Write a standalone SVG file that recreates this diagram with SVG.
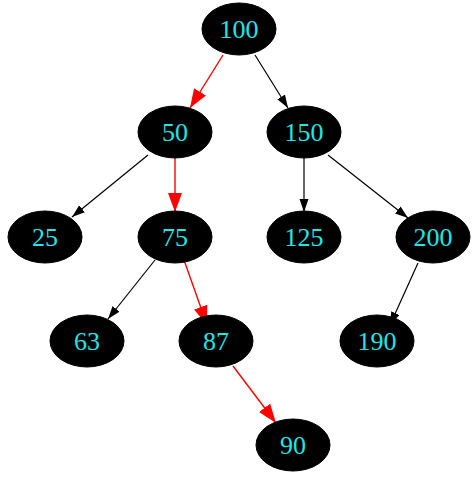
<svg xmlns="http://www.w3.org/2000/svg" width="474" height="481" viewBox="0 0 474 481">
<style>
.node ellipse{fill:#000;stroke:#000}
.node text{font-family:"Liberation Serif","Times New Roman",serif;font-size:26px;fill:#22e6e6;text-anchor:middle}
.e{fill:none;stroke:#000;stroke-width:1.2;marker-end:url(#ab)}
.r{stroke:#ff0000;stroke-width:1.4;marker-end:url(#ar)}
</style>
<defs>
<marker id="ab" markerUnits="userSpaceOnUse" markerWidth="14" markerHeight="12" refX="13" refY="4.5" orient="auto"><path d="M0,0 L13,4.5 L0,9 Z" fill="#000"/></marker>
<marker id="ar" markerUnits="userSpaceOnUse" markerWidth="20" markerHeight="16" refX="19" refY="7" orient="auto"><path d="M0,0 L19,7 L0,14 Z" fill="#ff0000"/></marker>
</defs>
<rect width="474" height="481" fill="#fff"/>
<g id="edges">
<path class="e r" d="M223,55 L190,108"/>
<path class="e" d="M255,55 L288,108"/>
<path class="e" d="M148,155 L72,217"/>
<path class="e r" d="M175,158 L175,212"/>
<path class="e" d="M304,158 L304,212"/>
<path class="e" d="M328,155 L408,218"/>
<path class="e" d="M155,260 L108,319"/>
<path class="e r" d="M184,260 L207,325"/>
<path class="e" d="M418,263 L390,325"/>
<path class="e r" d="M233,366 L276,423"/>
</g>
<g id="n100" class="node"><ellipse cx="239" cy="29" rx="37" ry="26"/><text x="239" y="38">100</text></g>
<g id="n50" class="node"><ellipse cx="175" cy="132" rx="37" ry="26"/><text x="175" y="141">50</text></g>
<g id="n150" class="node"><ellipse cx="304" cy="132" rx="37" ry="26"/><text x="304" y="141">150</text></g>
<g id="n25" class="node"><ellipse cx="45" cy="237" rx="37" ry="26"/><text x="45" y="246">25</text></g>
<g id="n75" class="node"><ellipse cx="175" cy="237" rx="37" ry="26"/><text x="175" y="246">75</text></g>
<g id="n125" class="node"><ellipse cx="304" cy="237" rx="37" ry="26"/><text x="304" y="246">125</text></g>
<g id="n200" class="node"><ellipse cx="433" cy="237" rx="37" ry="26"/><text x="433" y="246">200</text></g>
<g id="n63" class="node"><ellipse cx="87" cy="341" rx="37" ry="26"/><text x="87" y="350">63</text></g>
<g id="n87" class="node"><ellipse cx="216" cy="341" rx="37" ry="26"/><text x="216" y="350">87</text></g>
<g id="n190" class="node"><ellipse cx="377" cy="341" rx="37" ry="26"/><text x="377" y="350">190</text></g>
<g id="n90" class="node"><ellipse cx="293" cy="445" rx="37" ry="26"/><text x="293" y="454">90</text></g>
</svg>
